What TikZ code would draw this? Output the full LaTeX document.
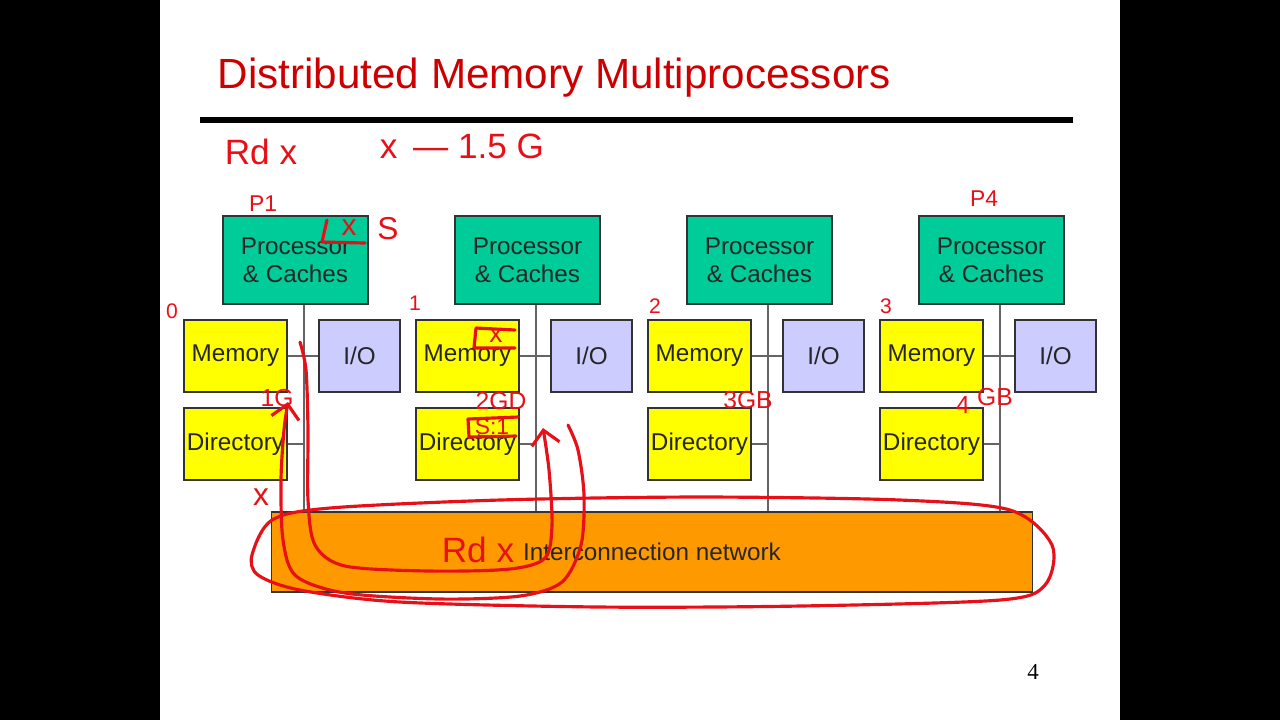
\documentclass[tikz,border=0pt]{standalone}
\usepackage{fontspec}
\setmainfont{Liberation Sans}
\newfontfamily\pagefont{Liberation Serif}
\usetikzlibrary{arrows.meta}
\definecolor{titlered}{RGB}{204,0,0}
\definecolor{penred}{RGB}{232,16,24}
\definecolor{proccol}{RGB}{0,204,153}
\definecolor{memcol}{RGB}{255,255,0}
\definecolor{iocol}{RGB}{204,204,255}
\definecolor{netcol}{RGB}{255,153,0}
\definecolor{buscol}{RGB}{100,100,100}

\begin{document}
\begin{tikzpicture}[x=0.01cm,y=-0.01cm,
  box/.style={draw=black!80,line width=0.4pt,inner sep=0pt,align=center,
    font=\fontsize{6.9}{8}\selectfont,text=black!85},
  procbox/.style={box,fill=proccol,minimum width=1.45cm,minimum height=0.88cm},
  membox/.style={box,fill=memcol,minimum width=1.03cm,minimum height=0.72cm},
  iobox/.style={box,fill=iocol,minimum width=0.81cm,minimum height=0.72cm},
  bus/.style={draw=buscol,line width=0.4pt},
  pen/.style={draw=penred,line width=0.9pt,line cap=round,line join=round},
  note/.style={text=penred,inner sep=0pt,font=\fontsize{#1}{#1}\selectfont},
  note/.default=7]
  \useasboundingbox (0,0) rectangle (1280,720);
  \fill[black] (0,0) rectangle (160,720);
  \fill[black] (1120,0) rectangle (1280,720);
  \fill[white] (160,0) rectangle (1120,720);
  % title and rule
  \node[anchor=base west,inner sep=0pt,text=titlered,
    font=\fontsize{12}{14}\selectfont] (title) at (217,88) {Distributed Memory Multiprocessors};
  \fill[black] (200,117) rectangle (1073,123);
  % network
  \node[box,fill=netcol,minimum width=7.6cm,minimum height=0.8cm] (net) at (652,552) {Interconnection network};
  % the four nodes
  \foreach \i/\o in {1/0,2/232,3/464,4/696}{
    \node[procbox] (p\i) at (295.5+\o,260) {Processor\\\& Caches};
    \node[membox] (m\i) at (235.5+\o,356) {Memory};
    \node[iobox] (io\i) at (359.5+\o,356) {I/O};
    \node[membox] (d\i) at (235.5+\o,444) {Directory};
    \coordinate (b\i) at (304+\o,512);
    \draw[bus] (p\i.south -| b\i) -- (b\i |- net.north);
    \draw[bus] (m\i.east) -- (io\i.west);
    \draw[bus] (d\i.east) -- (d\i.east -| b\i);
  }
  \node[inner sep=0pt,font=\pagefont\fontsize{6.5}{7}\selectfont] (pg) at (1033,672) {4};
  % pen notes
  \node[note=10] (rda) at (261,152) {Rd x};
  \node[note=10] (xg) at (462,146) {x\, — 1.5 G};
  \node[note=6.5] (pa) at (263,204) {P1};
  \node[note=6.5] (pd) at (984,199) {P4};
  \draw[pen] (327,220) -- (322,242) -- (365,243);
  \node[note=8.5] (lx) at (349,228) {x};
  \node[note=9] (ls) at (388,229) {S};
  \node[note=6] (n0) at (172,311) {0};
  \node[note=6] (n1) at (415,303) {1};
  \node[note=6] (n2) at (655,306) {2};
  \node[note=6] (n3) at (886,306) {3};
  \draw[pen] (515,330) -- (476,328) -- (474,348) -- (515,348);
  \node[note=7.5] (mx) at (496,336) {x};
  \node[note=7] (ga) at (277,398) {1G};
  \node[note=7] (gb) at (501,401) {2GD};
  \draw[pen] (518,417) -- (468,419) -- (469,437) -- (516,436);
  \node[note=6.5] (sa) at (492,427) {S:1};
  \node[note=7] (gc) at (748,400) {3GB};
  \node[note=7] (gd4) at (963,405) {4};
  \node[note=7] (gd) at (995,397) {GB};
  \node[note=9] (xa) at (261,497) {x};
  \node[note=10] (rdb) at (478,550) {Rd x};
  % loops
  \draw[pen] plot[smooth cycle] coordinates {(252,555) (272,520) (330,508) (500,500)
    (700,497) (900,500) (1010,510) (1052,545) (1045,585) (1000,600) (800,606)
    (600,607) (400,602) (300,590) (258,575)};
  \draw[pen,-{Straight Barb[length=1.4mm,width=2.8mm]}] plot[smooth] coordinates {(300,342)
    (306,370) (308,430) (308,500) (315,545) (345,566) (430,571) (510,569) (545,558)
    (552,525) (549,470) (543,428)};
  \draw[pen,-{Straight Barb[length=1.4mm,width=2.8mm]}] plot[smooth] coordinates {(568,425)
    (578,450) (584,495) (581,545) (562,582) (520,596) (440,599) (345,593) (296,576)
    (283,540) (281,480) (284,430) (288,402)};
\end{tikzpicture}
\end{document}
